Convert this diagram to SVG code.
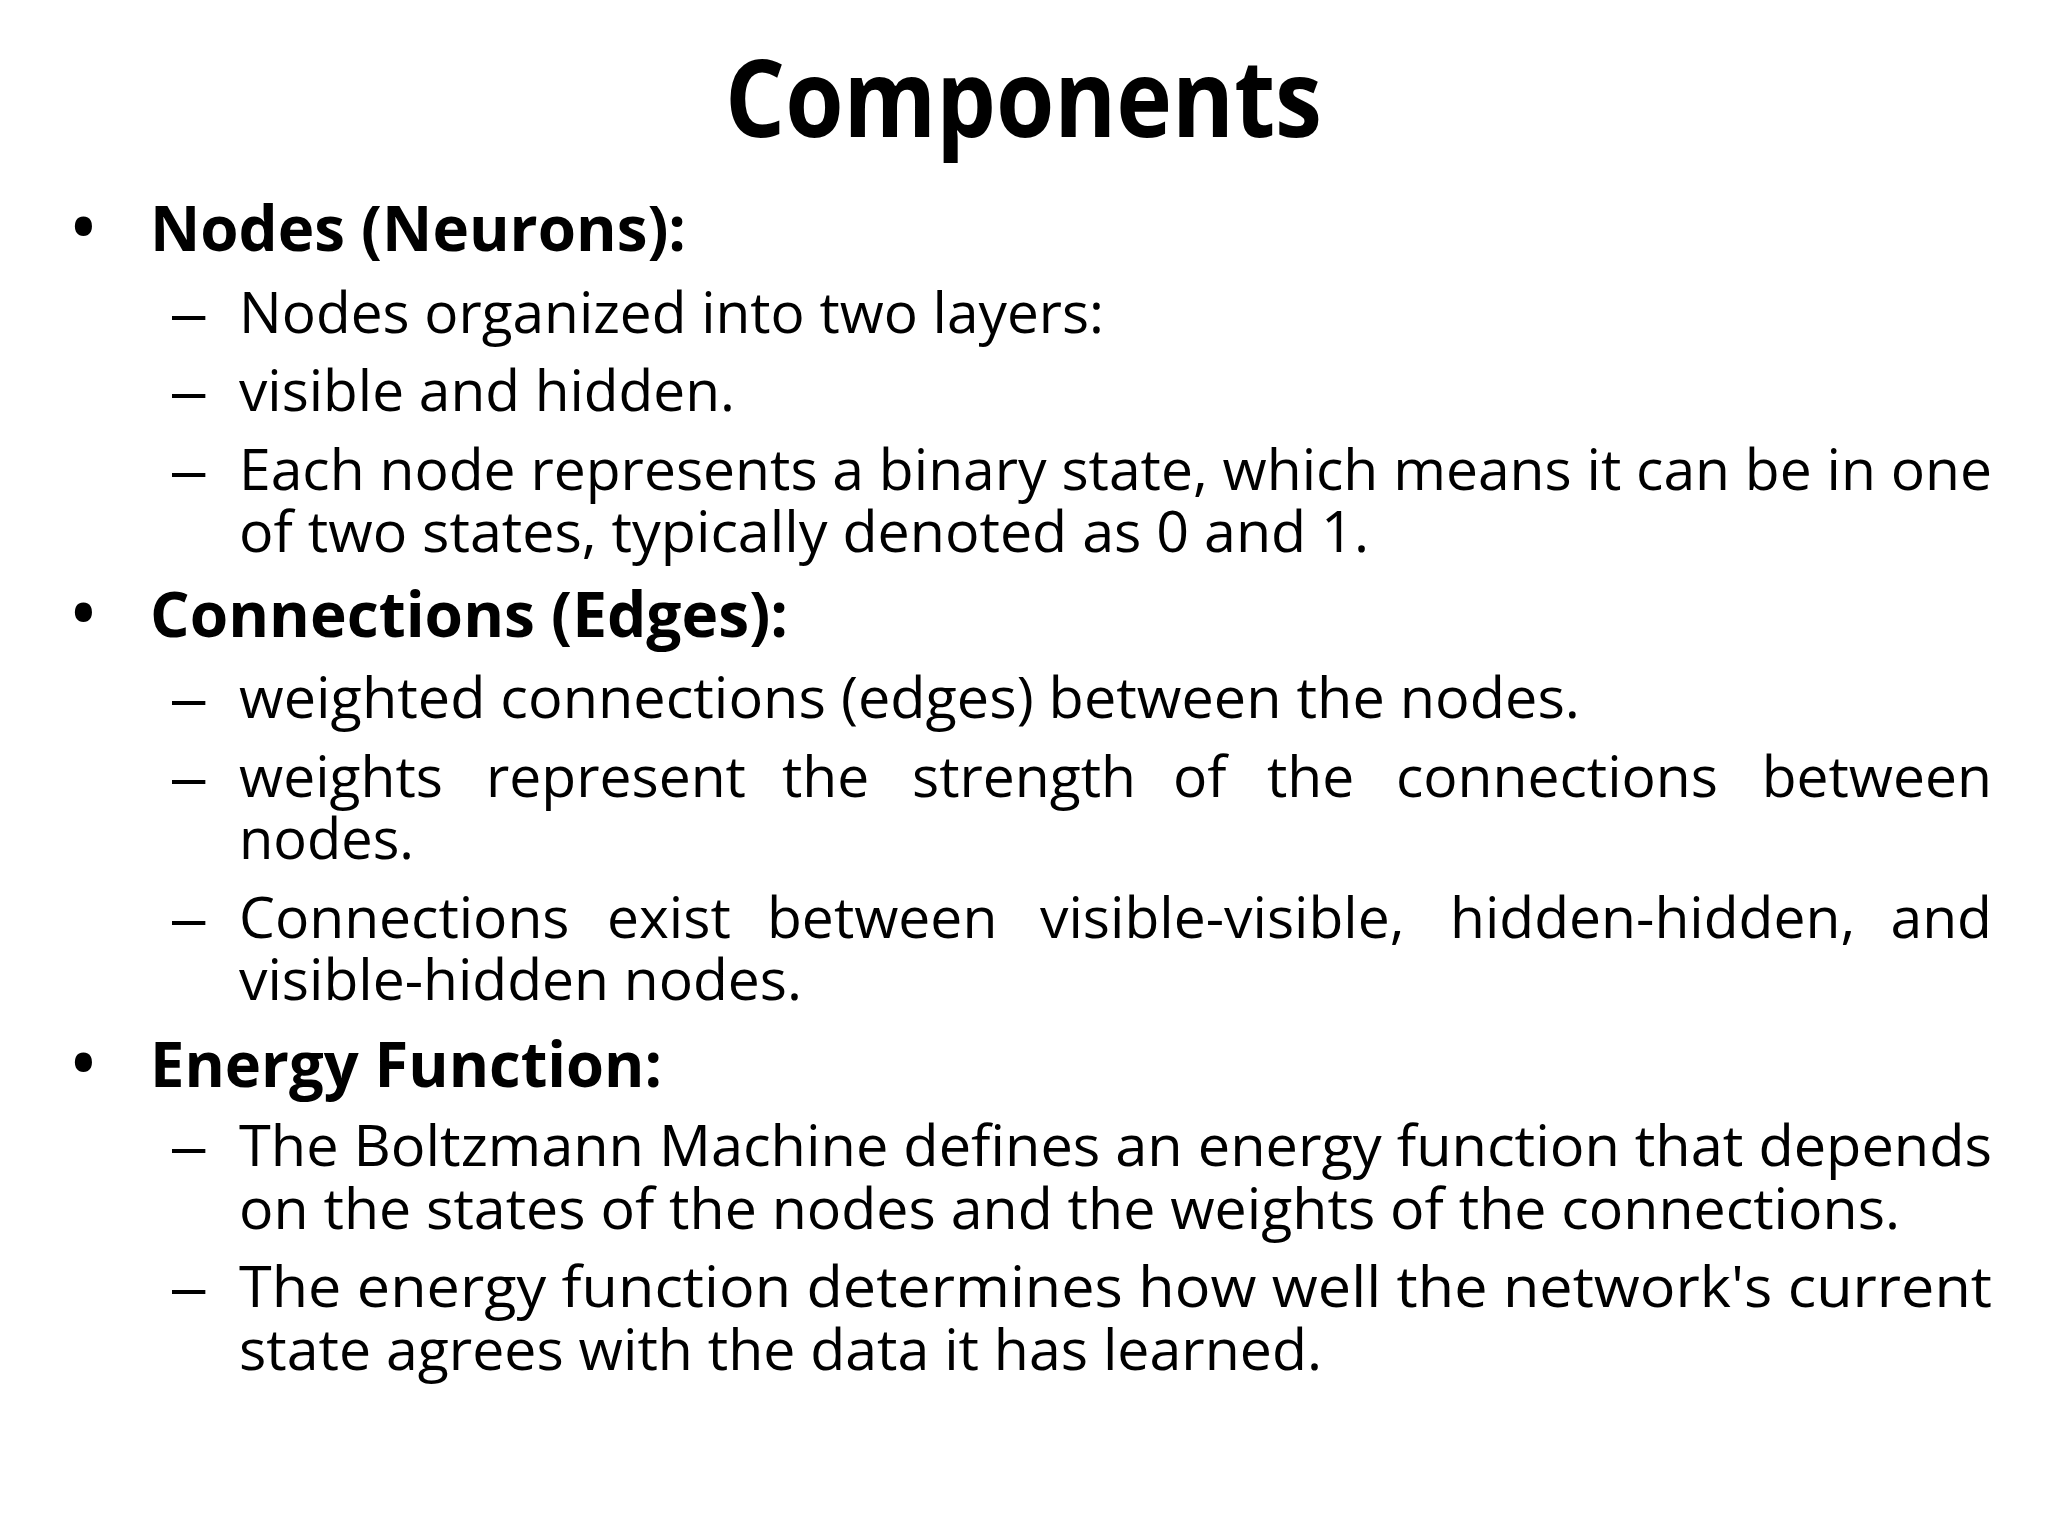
<svg xmlns="http://www.w3.org/2000/svg" width="2048" height="1536" viewBox="0 0 2048 1536">
<style>
text{font-family:"Open Sans","Liberation Sans",sans-serif;fill:#000}
.t{font-size:108px;font-weight:bold}
.h{font-size:62px;font-weight:bold}
.b{font-size:82px}
.d{font-size:60px;font-family:"Liberation Sans",sans-serif}
.s{font-size:57px}
.e{text-anchor:end}
</style>
<rect width="2048" height="1536" fill="#fff"/>
<text class="t" x="725" y="137" textLength="597" lengthAdjust="spacingAndGlyphs">Components</text>
<g id="nodes">
<text class="b" x="68" y="256">•</text>
<text class="h" x="150" y="251" textLength="536" lengthAdjust="spacingAndGlyphs">Nodes (Neurons):</text>
<text class="d" x="172" y="333">–</text>
<text class="s" x="239" y="333" textLength="865" lengthAdjust="spacingAndGlyphs">Nodes organized into two layers:</text>
<text class="d" x="172" y="411">–</text>
<text class="s" x="239" y="411" textLength="496" lengthAdjust="spacingAndGlyphs">visible and hidden.</text>
<text class="d" x="172" y="490">–</text>
<text class="s" x="239" y="490" textLength="1753" lengthAdjust="spacingAndGlyphs">Each node represents a binary state, which means it can be in one</text>
<text class="s" x="239" y="552" textLength="1130" lengthAdjust="spacingAndGlyphs">of two states, typically denoted as 0 and 1.</text>
</g>
<g id="connections">
<text class="b" x="68" y="642">•</text>
<text class="h" x="150" y="637" textLength="638" lengthAdjust="spacingAndGlyphs">Connections (Edges):</text>
<text class="d" x="172" y="718">–</text>
<text class="s" x="239" y="718" textLength="1341" lengthAdjust="spacingAndGlyphs">weighted connections (edges) between the nodes.</text>
<text class="d" x="172" y="797">–</text>
<text class="s" y="797"><tspan x="239">weights</tspan><tspan x="486">represent</tspan><tspan x="782">the</tspan><tspan x="912">strength</tspan><tspan x="1173">of</tspan><tspan x="1267">the</tspan><tspan x="1396">connections</tspan></text>
<text class="s e" x="1992" y="797">between</text>
<text class="s" x="239" y="859" textLength="175" lengthAdjust="spacingAndGlyphs">nodes.</text>
<text class="d" x="172" y="938">–</text>
<text class="s" y="938"><tspan x="239">Connections</tspan><tspan x="607">exist</tspan><tspan x="767">between</tspan><tspan x="1040">visible-visible,</tspan><tspan x="1450">hidden-hidden,</tspan></text>
<text class="s e" x="1992" y="938">and</text>
<text class="s" x="239" y="1000" textLength="563" lengthAdjust="spacingAndGlyphs">visible-hidden nodes.</text>
</g>
<g id="energy">
<text class="b" x="68" y="1092">•</text>
<text class="h" x="150" y="1087" textLength="512" lengthAdjust="spacingAndGlyphs">Energy Function:</text>
<text class="d" x="172" y="1166">–</text>
<text class="s" x="239" y="1166" textLength="1753" lengthAdjust="spacingAndGlyphs">The Boltzmann Machine defines an energy function that depends</text>
<text class="s" x="239" y="1229" textLength="1661" lengthAdjust="spacingAndGlyphs">on the states of the nodes and the weights of the connections.</text>
<text class="d" x="172" y="1307">–</text>
<text class="s" x="239" y="1307" textLength="1753" lengthAdjust="spacingAndGlyphs">The energy function determines how well the network's current</text>
<text class="s" x="239" y="1370" textLength="1083" lengthAdjust="spacingAndGlyphs">state agrees with the data it has learned.</text>
</g>
</svg>
